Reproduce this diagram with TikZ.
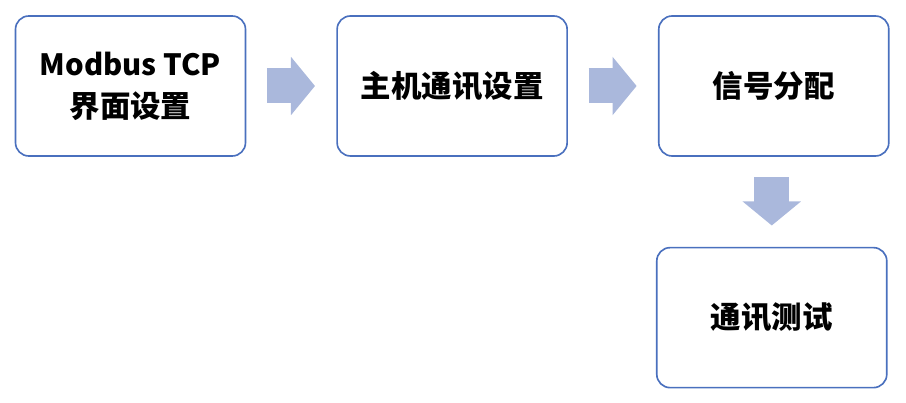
\documentclass[tikz,border=0pt]{standalone}
\usepackage{fontspec}
\setmainfont{Noto Sans CJK SC}
\usepackage{xcolor}
\usetikzlibrary{arrows.meta,positioning}
\definecolor{boxblue}{HTML}{4A70BE}
\definecolor{flowblue}{HTML}{AAB8DC}

\begin{document}
\begin{tikzpicture}[node distance=2.70cm, auto]
    % Define styles
    \tikzstyle{block} = [rectangle, draw=boxblue, line width=1.4pt, fill=white, align=center, rounded corners=0.4cm, minimum width=6.9cm, minimum height=4.2cm, font=\fontsize{26}{36}\selectfont\bfseries]
    \tikzstyle{arrow} = [draw=flowblue, line width=1.05cm, -{Triangle[length=0.72cm, width=1.71cm]}, shorten <=0.62cm, shorten >=0.64cm]

    \useasboundingbox (0,0) rectangle (27.18,12.09);

    % Nodes
    \node [block] (iface) at (3.915,9.51) {{\fontsize{25}{36}\selectfont Modbus TCP}\\界面设置};
    \node [block, right=of iface] (host) {主机通讯设置};
    \node [block, right=of host] (signal) {信号分配};
    \node [block, below=of signal, xshift=-0.06cm] (test) {通讯测试};

    % Arrows
    \draw [arrow] (iface) -- (host);
    \draw [arrow] (host) -- (signal);
    \draw [arrow] (signal.south -| test) -- (test);

\end{tikzpicture}
\end{document}
